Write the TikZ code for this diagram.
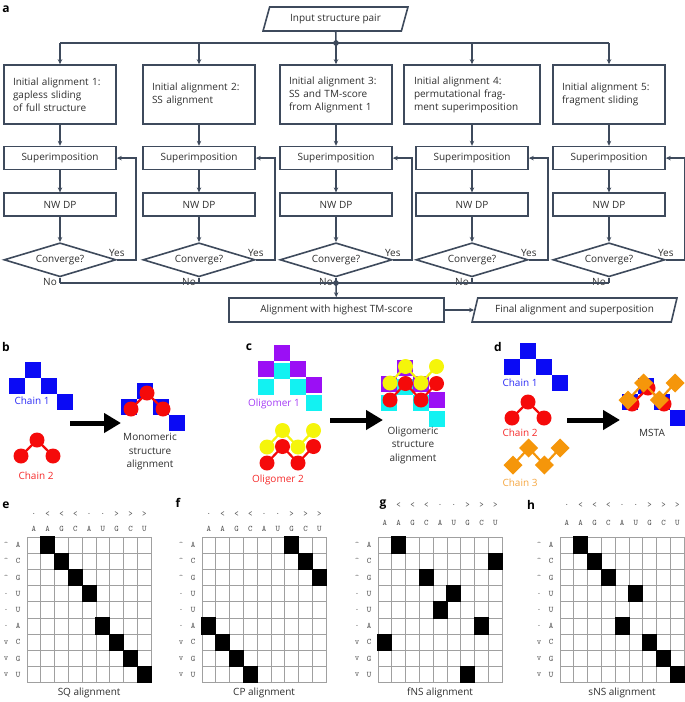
\documentclass[tikz,border=0pt]{standalone}
\usepackage{fontspec}
\setmainfont{Open Sans}
\usepackage{xcolor}
\usepackage{tikz}
\usetikzlibrary{arrows.meta}
\usetikzlibrary{positioning}
\usetikzlibrary{shapes.geometric}

\definecolor{flowline}{HTML}{3E4A5C}
\definecolor{flowtext}{HTML}{2E2E2E}
\definecolor{gridline}{HTML}{A0A0A0}
\definecolor{seqgray}{HTML}{555555}
\definecolor{sqblue}{HTML}{0A0AF5}
\definecolor{sqpurple}{HTML}{9B0FF5}
\definecolor{sqcyan}{HTML}{12F2F2}
\definecolor{beadred}{HTML}{F50A0A}
\definecolor{beadyellow}{HTML}{F5F50A}
\definecolor{beadorange}{HTML}{F5960A}
\definecolor{txtblue}{HTML}{2A2AF5}
\definecolor{txtred}{HTML}{F52A2A}
\definecolor{txtpurple}{HTML}{A43AF5}
\definecolor{txtorange}{HTML}{F5A640}

\tikzstyle{line} = [flowline, line width=1.6pt]
\tikzstyle{arrow} = [line, -{Stealth[length=5pt,width=4.5pt]}]
\tikzstyle{process} = [draw=flowline, line width=1.6pt, minimum width=112pt, minimum height=23pt, inner sep=2pt, text=flowtext, font=\fontsize{10}{13}\selectfont]
\tikzstyle{initbox} = [process, minimum height=59pt, align=left, text width=94pt, inner xsep=9pt]
\tikzstyle{decision} = [diamond, draw=flowline, line width=1.6pt, minimum width=112pt, minimum height=34pt, aspect=3.3, inner sep=0pt, text=flowtext, font=\fontsize{10}{12}\selectfont]
\tikzstyle{io} = [trapezium, trapezium left angle=71, trapezium right angle=109, trapezium stretches=true, draw=flowline, line width=1.6pt, minimum height=24pt, inner sep=2pt, text=flowtext, font=\fontsize{10}{12}\selectfont]
\tikzstyle{flowlabel} = [inner sep=1pt, text=flowtext, font=\fontsize{10}{12}\selectfont]
\tikzstyle{paneltag} = [inner sep=0pt, font=\bfseries\fontsize{12}{14}\selectfont]
\tikzstyle{chaintext} = [inner sep=0pt, align=center, font=\fontsize{10}{13.5}\selectfont]
\tikzstyle{bigarrow} = [black, line width=5pt, -{Triangle[length=17pt,width=19pt]}]
\tikzstyle{seqtext} = [inner sep=0pt, text=seqgray, font=\ttfamily\fontsize{8.5}{10}\selectfont]
\tikzstyle{captext} = [inner sep=0pt, text=flowtext, font=\fontsize{10}{12}\selectfont]

% staircase of four squares: origin x, y, colour
\newcommand{\stairs}[3]{%
  \fill[#3] (#1+16,#2) rectangle ++(16,16);
  \fill[#3] (#1,#2+16) rectangle ++(16,16);
  \fill[#3] (#1+32,#2+16) rectangle ++(16,16);
  \fill[#3] (#1+48,#2+32) rectangle ++(16,16);}
% three beads: top bead x, y, colour
\newcommand{\triad}[3]{%
  \draw[#3, line width=2.2pt] (#1-16,#2+16) -- (#1,#2) -- (#1+16,#2+16);
  \foreach \dx/\dy in {-16/16,0/0,16/16} \fill[#3] (#1+\dx,#2+\dy) circle (7.5pt);}
% four beads in a zigzag: first bead x, y, colour
\newcommand{\beadzig}[3]{%
  \draw[#3, line width=2.2pt] (#1,#2) -- (#1+15.5,#2-16.5) -- (#1+31,#2) -- (#1+46.5,#2-16.5);
  \foreach \dx/\dy in {0/0,15.5/-16.5,31/0,46.5/-16.5} \fill[#3] (#1+\dx,#2+\dy) circle (7.5pt);}
% four diamonds in a zigzag: first diamond x, y, colour
\newcommand{\diamondzig}[3]{%
  \draw[#3, line width=2.2pt] (#1,#2) -- (#1+15.7,#2-17) -- (#1+31.4,#2) -- (#1+47.1,#2-17);
  \foreach \dx/\dy in {0/0,15.7/-17,31.4/0,47.1/-17}
    \fill[#3] (#1+\dx,#2+\dy-9.5) -- ++(9.5,9.5) -- ++(-9.5,9.5) -- ++(-9.5,-9.5) -- cycle;}
% alignment matrix: x0, symbol row y, letter row y, filled r/c, caption, name
\newcommand{\alnmat}[6]{%
  \begin{scope}[shift={(#1,537)}]
    \foreach \c in {0,...,9} \draw[gridline, line width=0.8pt] (\c*13.8,0) -- (\c*13.8,145.8);
    \foreach \r in {0,...,9} \draw[gridline, line width=0.8pt] (0,\r*16.2) -- (124.2,\r*16.2);
    \foreach \r/\c in {#4} \fill[black] (\c*13.8-0.6,\r*16.2-0.6) rectangle ++(15,17.4);
    \foreach \s [count=\c from 0] in {.,<,<,<,.,.,>,>,>}
      \node[seqtext] (#6s\c) at (\c*13.8+6.9,#2) {\s};
    \foreach \l [count=\c from 0] in {A,A,G,C,A,U,G,C,U}
      \node[seqtext] (#6l\c) at (\c*13.8+6.9,#3) {\l};
    \foreach \s/\l [count=\r from 0] in {\textasciicircum/A,\textasciicircum/C,\textasciicircum/G,./U,./U,./A,v/C,v/G,v/U} {
      \node[seqtext] (#6rs\r) at (-21,\r*16.2+8.1) {\s};
      \node[seqtext] (#6rl\r) at (-9,\r*16.2+8.1) {\l};
    }
    \node[captext] (#6cap) at (62.1,156) {#5};
  \end{scope}}

\begin{document}
\begin{tikzpicture}[x=1pt,y=-1pt]
\useasboundingbox (0,0) rectangle (685,702);

% a: flowchart
\node[paneltag] (tagA) at (6,9) {a};
\node[io, minimum width=145pt] (input) at (335.5,19) {Input structure pair};
\coordinate (split) at (336,43);
\node[initbox] (init1) at (60,94.5) {Initial alignment 1:\\gapless sliding\\of full structure};
\node[initbox] (init2) at (199,94.5) {Initial alignment 2:\\SS alignment};
\node[initbox] (init3) at (336,94.5) {Initial alignment 3:\\SS and TM-score\\from Alignment 1};
\node[initbox, text width=116pt, inner xsep=10pt] (init4) at (472,94.5) {Initial alignment 4:\\permutational frag-\\ment superimposition};
\node[initbox] (init5) at (609,94.5) {Initial alignment 5:\\fragment sliding};
\draw[line] (input) -- (split);
\draw[line] (init1 |- split) -- (init5 |- split);
\fill[flowline] (split) circle (2.8pt);
\coordinate (nobus) at (336,283);
\foreach \i in {1,...,5} {
  \draw[arrow] (init\i |- split) -- (init\i);
  \node[process, below=21pt of init\i] (sup\i) {Superimposition};
  \node[process, below=22pt of sup\i] (nw\i) {NW DP};
  \node[decision, below=25pt of nw\i] (conv\i) {Converge?};
  \draw[arrow] (init\i) -- (sup\i);
  \draw[arrow] (sup\i) -- (nw\i);
  \draw[arrow] (nw\i) -- (conv\i);
  \draw[arrow] (conv\i.east) -- ++(19pt,0) |- (sup\i.east);
  \node[flowlabel, anchor=south] (yes\i) at ([yshift=2pt]conv\i.east) {Yes};
  \draw[line] (conv\i.south) -- (conv\i.south |- nobus);
  \node[flowlabel, anchor=north east] (no\i) at ([xshift=-2pt]conv\i.south) {No};
}
\draw[line] (conv1.south |- nobus) -- (conv5.south |- nobus);
\fill[flowline] (nobus) circle (2.8pt);
\node[process, minimum width=215pt, minimum height=24pt] (best) at (336.5,310) {Alignment with highest TM-score};
\node[io, minimum width=205pt] (final) at (574.5,310) {Final alignment and superposition};
\draw[arrow] (nobus) -- (best);
\draw[arrow] (best) -- (final);

% b: monomeric
\node[paneltag] (tagB) at (6,347) {b};
\stairs{9}{362}{sqblue}
\node[chaintext, text=txtblue] (chainOneB) at (32,401) {Chain 1};
\triad{37}{440}{beadred}
\node[chaintext, text=txtred] (chainTwoB) at (36,476) {Chain 2};
\coordinate (arrBs) at (70,423);
\coordinate (arrBe) at (121,423);
\draw[bigarrow] (arrBs) -- (arrBe);
\stairs{121}{383}{sqblue}
\triad{147}{393}{beadred}
\node[chaintext, text=flowtext] (monoTxt) at (150,452) {Monomeric\\structure\\alignment};

% c: oligomeric
\node[paneltag] (tagC) at (249,347) {c};
\stairs{258}{345}{sqpurple}
\stairs{258}{363}{sqcyan}
\node[chaintext, text=txtpurple] (oligoOne) at (274,404) {Oligomer 1};
\beadzig{267}{447}{beadyellow}
\beadzig{267}{463}{beadred}
\node[chaintext, text=txtred] (oligoTwo) at (278,480) {Oligomer 2};
\coordinate (arrCs) at (330,420);
\coordinate (arrCe) at (383,420);
\draw[bigarrow] (arrCs) -- (arrCe);
\stairs{381}{360}{sqpurple}
\stairs{381}{379}{sqcyan}
\beadzig{390}{383}{beadyellow}
\beadzig{390}{400}{beadred}
\node[chaintext, text=flowtext] (oligoTxt) at (413,445) {Oligomeric\\structure\\alignment};

% d: multiple chains
\node[paneltag] (tagD) at (498,347) {d};
\stairs{504}{343}{sqblue}
\node[chaintext, text=txtblue] (chainOneD) at (520,383) {Chain 1};
\triad{528}{402}{beadred}
\node[chaintext, text=txtred] (chainTwoD) at (520,433) {Chain 2};
\diamondzig{513}{465}{beadorange}
\node[chaintext, text=txtorange] (chainThreeD) at (520,483) {Chain 3};
\coordinate (arrDs) at (567,420);
\coordinate (arrDe) at (620,420);
\draw[bigarrow] (arrDs) -- (arrDe);
\stairs{622}{378}{sqblue}
\triad{648}{388}{beadred}
\diamondzig{628}{400}{beadorange}
\node[chaintext, text=flowtext] (mstaTxt) at (652,433) {MSTA};

% e-h: alignment matrices
\node[paneltag] (tagE) at (6,505) {e};
\alnmat{27}{-23}{-8}{0/1,1/2,2/3,3/4,5/5,6/6,7/7,8/8}{SQ alignment}{sq}
\node[paneltag] (tagF) at (178,503) {f};
\alnmat{202}{-23}{-8}{0/6,1/7,2/8,5/0,6/1,7/2,8/3}{CP alignment}{cp}
\node[paneltag] (tagG) at (383,505) {g};
\alnmat{378}{-32}{-14}{0/1,1/8,2/3,3/5,4/4,5/7,6/0,8/6}{fNS alignment}{fns}
\node[paneltag] (tagH) at (531,505) {h};
\alnmat{560}{-32}{-14}{0/1,1/2,2/3,3/5,5/4,6/6,7/7,8/8}{sNS alignment}{sns}
\end{tikzpicture}
\end{document}
